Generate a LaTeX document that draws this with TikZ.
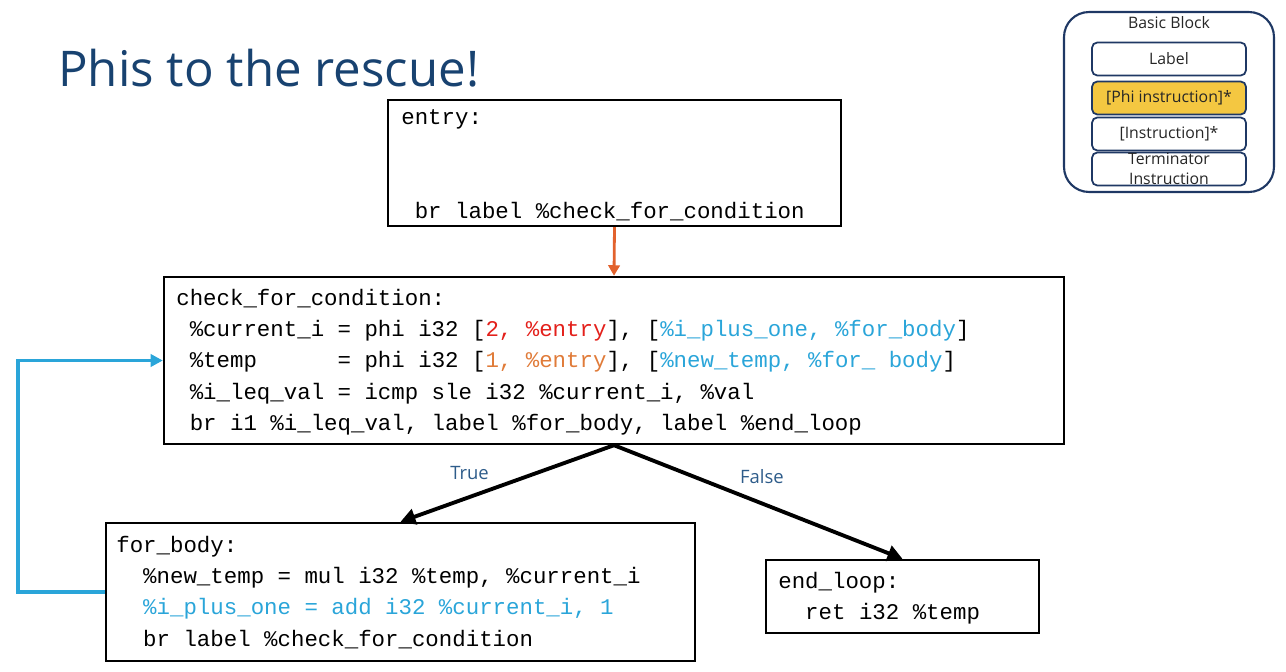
\documentclass[tikz,border=0pt]{standalone}
\usepackage{fontspec}
\setmainfont{Open Sans}
\setmonofont{Liberation Mono}
\usetikzlibrary{arrows.meta}
\definecolor{titleblue}{RGB}{24,66,112}
\definecolor{legendblue}{RGB}{31,56,100}
\definecolor{phiyellow}{RGB}{244,199,65}
\definecolor{codered}{RGB}{227,32,27}
\definecolor{codeorange}{RGB}{224,123,57}
\definecolor{codeblue}{RGB}{42,165,217}
\definecolor{arroworange}{RGB}{226,98,45}
\definecolor{labelblue}{RGB}{46,92,138}
\newcommand{\codefont}{\fontsize{12.75}{17.8}\selectfont\ttfamily}

\begin{document}
\begin{tikzpicture}[x=0.02cm,y=-0.02cm]
        \tikzstyle{block}=[draw=black,line width=1.4pt,inner sep=0pt]
        \tikzstyle{code}=[anchor=north west,inner sep=0pt,align=left,font=\codefont]
        \tikzstyle{part}=[draw=legendblue,line width=1pt,rounded corners=3pt,minimum width=3.08cm,minimum height=0.66cm,inner sep=0pt,text=black!85,font=\fontsize{9}{11.4}\selectfont]
        \tikzstyle{flow}=[draw,line width=2.2pt,-{Triangle[length=8.5pt,width=9pt]}]
        \tikzstyle{cond}=[text=labelblue,font=\fontsize{10.5}{12}\selectfont]
        \useasboundingbox (0,0) rectangle (1286,672);

        % title
        \node [anchor=base west,inner sep=0pt,text=titleblue,font=\fontsize{28}{34}\selectfont] (title) at (58,87) {Phis to the rescue!};

        % legend
        \begin{scope}
         \node [draw=legendblue,line width=1.2pt,rounded corners=0.5cm,minimum width=4.2cm,minimum height=3.6cm] (bb) at (1169,102) {};
         \node [text=black!85,font=\fontsize{9}{11}\selectfont] (bbtitle) at (1169,23) {Basic Block};
         \node [part] (lbl) at (1169,59) {Label};
         \node [part,fill=phiyellow] (phi) at (1169,98) {[Phi instruction]*};
         \node [part] (ins) at (1169,134) {[Instruction]*};
         \node [part] (term) at (1169,169) {};
         \node [part,draw=none,align=center] (termtxt) at (term.center) {Terminator\\Instruction};
        \end{scope}

        % blocks
        \node [block,minimum width=9.06cm,minimum height=2.52cm] (entry) at (614.5,163) {};
        \node [code] (entrytxt) at (401,102) {\strut entry:\\\strut\\\strut\\~br label \%check\_for\_condition};

        \node [block,minimum width=18cm,minimum height=3.34cm] (check) at (614,360.5) {};
        \node [code] (checktxt) at (176,283) {\strut check\_for\_condition:\\
          ~\%current\_i = phi i32 [{\color{codered}2, \%entry}], [{\color{codeblue}\%i\_plus\_one, \%for\_body}]\\
          ~\%temp~~~~~~= phi i32 [{\color{codeorange}1, \%entry}], [{\color{codeblue}\%new\_temp, \%for\_~body}]\\
          ~\%i\_leq\_val = icmp sle i32 \%current\_i, \%val\\
          ~br i1 \%i\_leq\_val, label \%for\_body, label \%end\_loop};

        \node [block,minimum width=11.78cm,minimum height=2.76cm] (forbody) at (400.5,592) {};
        \node [code] (forbodytxt) at (116,530) {\strut for\_body:\\
          ~~\%new\_temp = mul i32 \%temp, \%current\_i\\
          {\color{codeblue}~~\%i\_plus\_one = add i32 \%current\_i, 1}\\
          ~~br label \%check\_for\_condition};

        \node [block,minimum width=5.46cm,minimum height=1.46cm] (endloop) at (902.5,596.5) {};
        \node [code] (endlooptxt) at (778,566) {\strut end\_loop:\\~~ret i32 \%temp};

        % control flow
        \draw [arroworange,line width=1.6pt,-{Triangle[length=6pt,width=6.5pt]}] (entry.south) -- (check.north);
        \path (check.south) edge[flow] node[cond,pos=0.55,above left] (truelbl) {True} (forbody.north);
        \path (check.south) edge[flow] node[cond,pos=0.41,above right] (falselbl) {False} (endloop.north);
        \coordinate (loopcorner) at (18,592);
        \draw [codeblue,line width=2pt,-{Triangle[length=7pt,width=7pt]}] (forbody.west) -- (loopcorner) |- (check.west);
\end{tikzpicture}
\end{document}
